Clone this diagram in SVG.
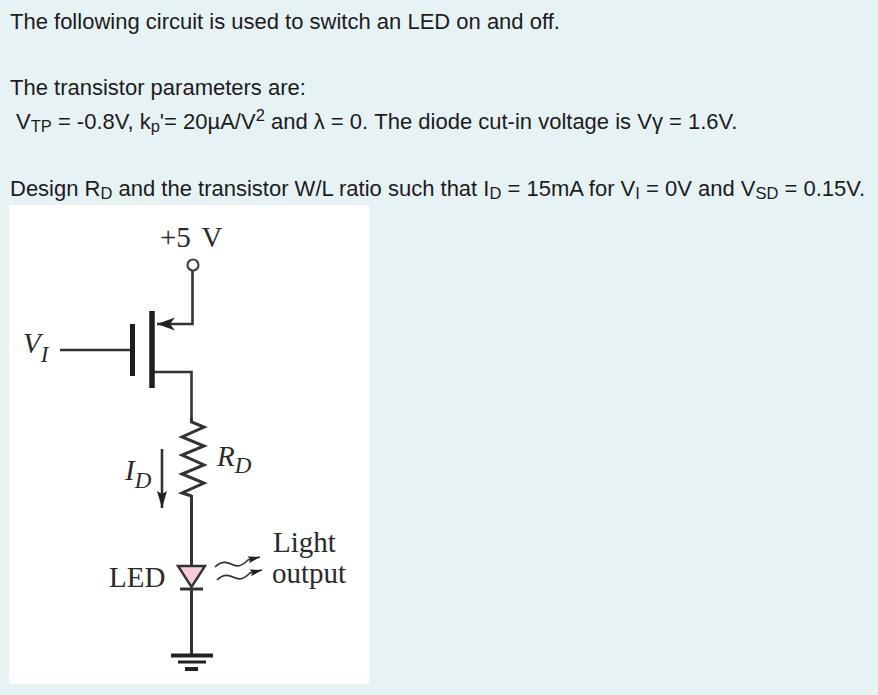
<svg xmlns="http://www.w3.org/2000/svg" width="878" height="695" viewBox="0 0 878 695">
<style>
.t{font-family:"Liberation Sans",Arial,sans-serif;font-size:22px;fill:#1c1c1c}
.s{font-size:16.500px}
.c{font-family:"Liberation Serif","Times New Roman",serif;font-size:29px;fill:#2a2a2a}
.i{font-style:italic}
.n{font-size:23px}
.w{fill:none;stroke:#333;stroke-width:2.600}
.l{fill:none;stroke:#333;stroke-width:1.700}
.b{fill:none;stroke:#1e1e1e;stroke-width:5}
</style>
<defs>
<marker id="a" markerWidth="19" markerHeight="14" refX="18" refY="7" orient="auto" markerUnits="userSpaceOnUse"><path d="M0 0.500L18 7L0 13.500L5 7Z" fill="#222"/></marker>
<marker id="d" markerWidth="19" markerHeight="10" refX="17" refY="5" orient="auto" markerUnits="userSpaceOnUse"><path d="M0 0L17 5L0 10L3 5Z" fill="#222"/></marker>
<marker id="e" markerWidth="13" markerHeight="8" refX="12" refY="4" orient="auto" markerUnits="userSpaceOnUse"><path d="M0 0.500L12 4L0 7.500L2 4Z" fill="#222"/></marker>
</defs>
<rect width="878" height="695" fill="#e7f2f5"/>
<rect x="9" y="205" width="360" height="479" fill="#fff"/>
<g id="question">
<text class="t" x="10" y="29">The following circuit is used to switch an LED on and off.</text>
<text class="t" x="10" y="95">The transistor parameters are:</text>
<text class="t" x="16" y="129">V<tspan class="s" dy="3">TP</tspan><tspan dy="-3"> = -0.8V, k</tspan><tspan class="s" dy="3">p</tspan><tspan dy="-3">'= 20µA/V</tspan><tspan class="s" dy="-8">2</tspan><tspan dy="8"> and λ = 0. The diode cut-in voltage is Vγ = 1.6V.</tspan></text>
<text class="t" x="10" y="196">Design R<tspan class="s" dy="3">D</tspan><tspan dy="-3"> and the transistor W/L ratio such that I</tspan><tspan class="s" dy="3">D</tspan><tspan dy="-3"> = 15mA for V</tspan><tspan class="s" dy="3">I</tspan><tspan dy="-3"> = 0V and V</tspan><tspan class="s" dy="3">SD</tspan><tspan dy="-3"> = 0.15V.</tspan></text>
</g>
<g id="connectors">
<path class="w" d="M192.500 270V324H157" marker-end="url(#a)"/>
<path class="w" d="M60 350H131"/>
<path class="w" d="M154 372H191.500V418"/>
<path class="w" style="stroke-width:3" d="M191.500 495V566M191.500 588V655"/>
<path class="w" d="M162 449V508" marker-end="url(#d)"/>
<path class="l" d="M215 567C220 562 225 561 231 564S241 567 248 560L260 557" marker-end="url(#e)"/>
<path class="l" d="M217 580C222 575 227 574 233 577S243 580 250 573L262 570" marker-end="url(#e)"/>
</g>
<g id="supply"><circle cx="193" cy="265" r="5.500" fill="#fff" stroke="#444" stroke-width="2.200"/><text class="c" x="160" y="247" word-spacing="4">+5 V</text></g>
<g id="transistor"><path class="b" d="M132.500 324V376"/><path class="b" style="stroke-width:5.500" d="M152 311V388"/></g>
<g id="vi"><text class="c i" x="23" y="353">V<tspan class="n" dy="9">I</tspan></text></g>
<g id="resistor"><path class="w" style="stroke-width:3" d="M191.500 418V422L204 427L182 437L204 446L182 455L204 465L182 474L204 483L182 493L191.500 496"/>
<text class="c i" x="217" y="466">R<tspan class="n" dy="7">D</tspan></text></g>
<g id="current"><text class="c i" x="125" y="480">I<tspan class="n" dy="8">D</tspan></text></g>
<g id="led"><path d="M178 566H205L191.500 587Z" fill="#f8cbdc" stroke="#333" stroke-width="2.400"/><path d="M180 589H203" stroke="#333" stroke-width="3"/>
<text class="c" x="109" y="587">LED</text>
<text class="c" x="273" y="552">Light</text><text class="c" x="272" y="583">output</text></g>
<g id="ground"><path d="M171 655.500H213" stroke="#222" stroke-width="4"/><path d="M178 662H206" stroke="#222" stroke-width="3"/><path d="M185 669H198" stroke="#222" stroke-width="4"/></g>
</svg>
